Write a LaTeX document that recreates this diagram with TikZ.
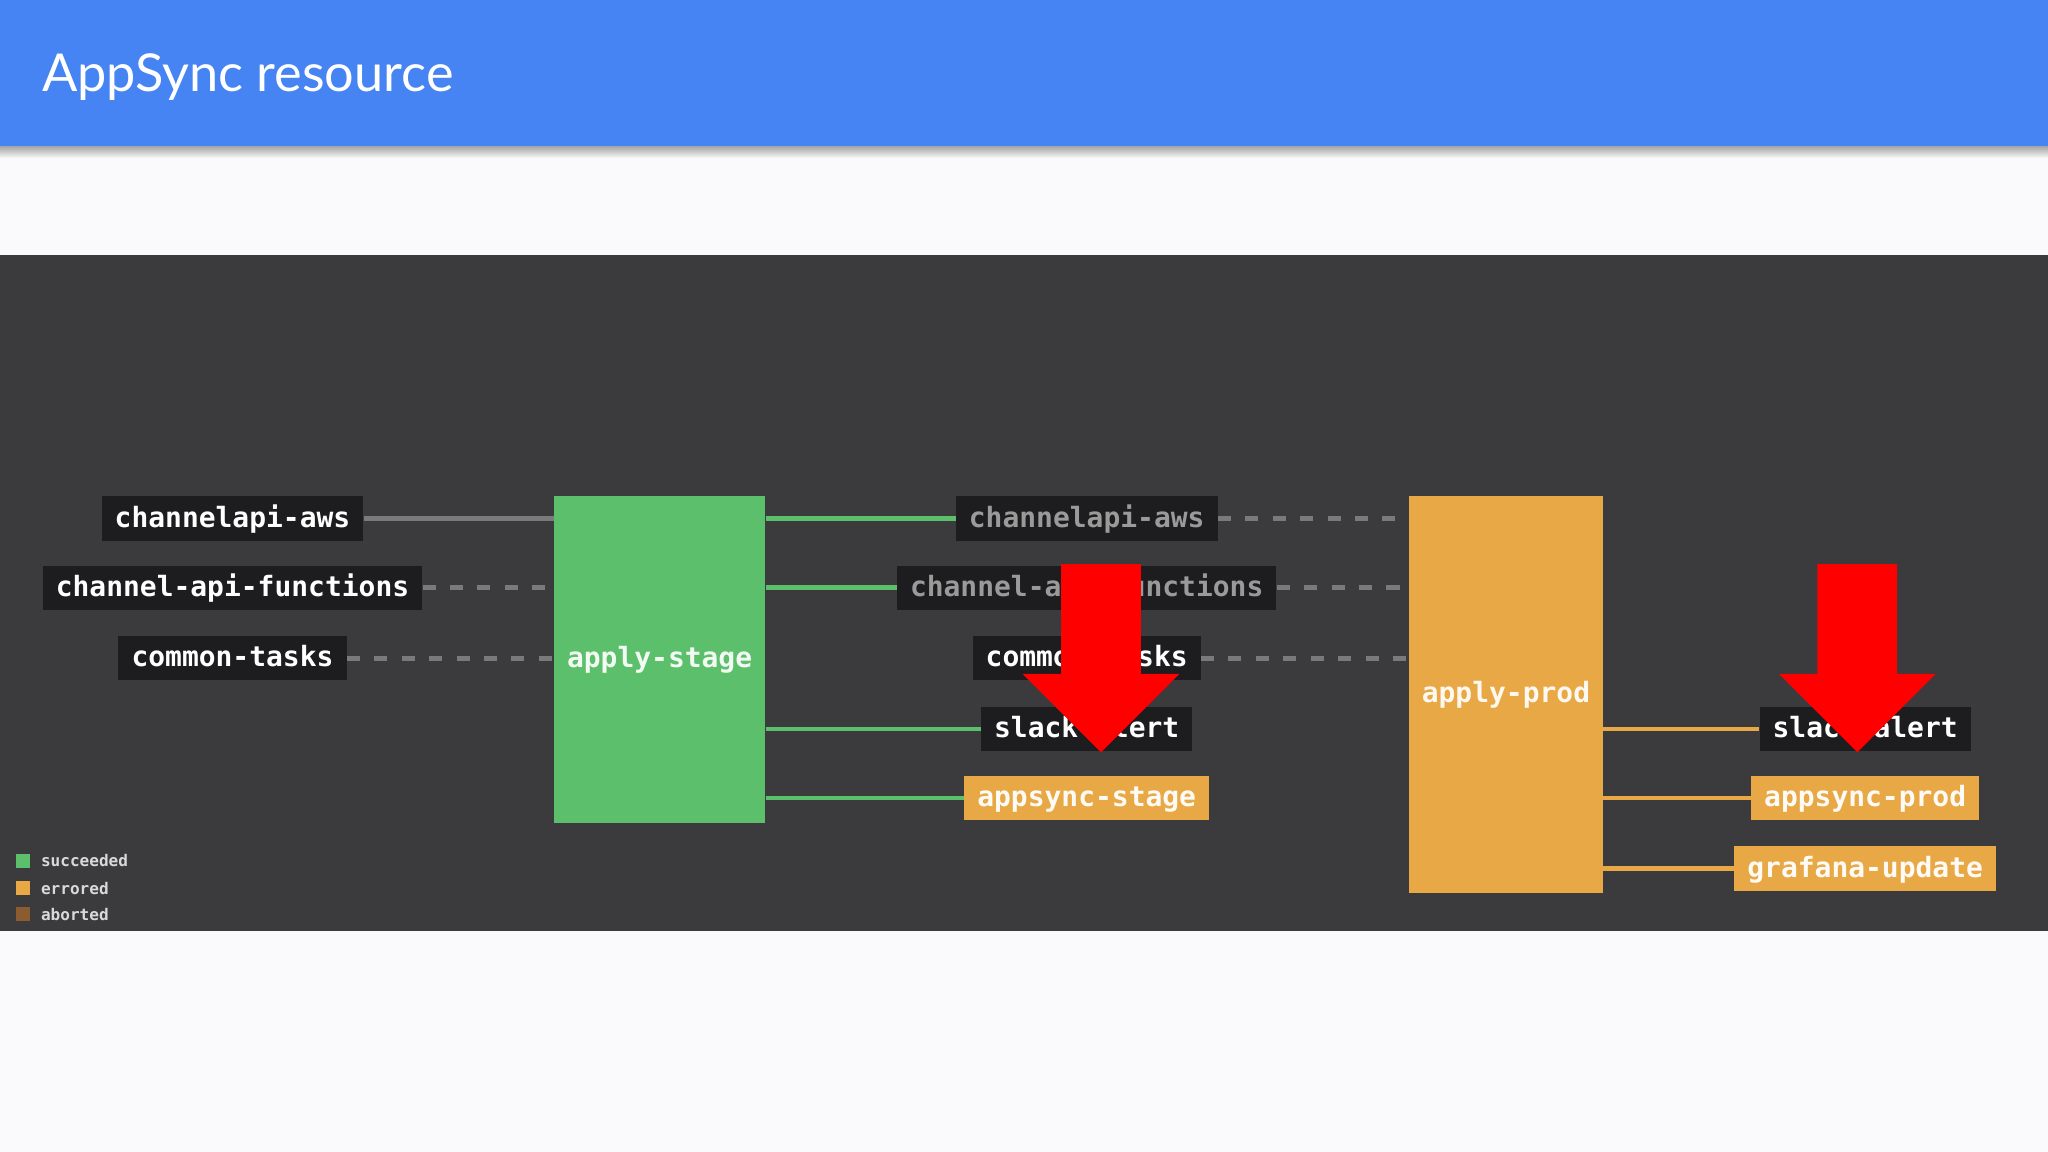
\documentclass[tikz,border=0pt]{standalone}
\usepackage{fontspec}
\usepackage{tikz}
\usetikzlibrary{positioning}
\newfontfamily\titlefont{Lato}
\newfontfamily\jobfont{DejaVu Sans Mono}
\definecolor{headblue}{HTML}{4584F2}
\definecolor{pagebg}{HTML}{FAF9FB}
\definecolor{darkbg}{HTML}{3B3A3C}
\definecolor{jobbg}{HTML}{1D1C1E}
\definecolor{okgreen}{HTML}{5BBF6B}
\definecolor{errorange}{HTML}{E8A845}
\definecolor{abortbrown}{HTML}{8C5C30}
\definecolor{depgrey}{HTML}{7A7A7A}
\definecolor{dimtext}{HTML}{9A9A9A}

\begin{document}
\begin{tikzpicture}[
    x=1pt, y=-1pt,
    job/.style={
        rectangle,
        fill=jobbg,
        text=white,
        font=\jobfont\bfseries\fontsize{21.4}{24}\selectfont,
        inner xsep=10pt, inner ysep=0pt,
        minimum height=34pt,
        text height=17pt, text depth=4pt
    },
    dimjob/.style={job, text=dimtext},
    errjob/.style={job, fill=errorange, text=white!95!errorange},
    stagebox/.style={
        rectangle,
        text=white!92!okgreen,
        font=\jobfont\bfseries\fontsize{21.4}{24}\selectfont,
        inner sep=0pt
    },
    dep/.style={draw=depgrey, line width=3.5pt},
    wait/.style={draw=depgrey, line width=3.5pt, dash pattern=on 10pt off 11pt},
    okline/.style={draw=okgreen, line width=3.5pt},
    errline/.style={draw=errorange, line width=3.5pt},
    legbox/.style={rectangle, minimum size=11pt, inner sep=0pt},
    legtext/.style={text=white!85!black, font=\jobfont\bfseries\fontsize{12.3}{14}\selectfont, inner sep=0pt, anchor=west}
  ]
  % page bands
  \fill[pagebg] (0,0) rectangle (1568,882);
  \fill[darkbg] (0,195) rectangle (1568,713);
  \shade[top color=black!35, bottom color=pagebg] (0,112) rectangle (1568,121);
  \fill[headblue] (0,0) rectangle (1568,112);
  \node[anchor=base west, inner sep=0pt, text=white, font=\titlefont\fontsize{40}{44}\selectfont] (title) at (32,70) {AppSync resource};

  % We start by placing the blocks
  \node[job] (awsL) at (178,397) {channelapi-aws};
  \node[job] (fnL) at (178,450) {channel-api-functions};
  \node[job] (tasksL) at (178,504) {common-tasks};

  \node[stagebox, fill=okgreen, minimum width=162pt, minimum height=250pt] (stage) at (505,505) {apply-stage};

  \node[dimjob] (awsM) at (832,397) {channelapi-aws};
  \node[dimjob] (fnM) at (832,450) {channel-api-functions};
  \node[job] (tasksM) at (832,504) {common-tasks};
  \node[job] (slackM) at (832,558) {slack-alert};
  \node[errjob] (appStage) at (832,611) {appsync-stage};

  \node[stagebox, fill=errorange, text=white!92!errorange, minimum width=148pt, minimum height=304pt] (prod) at (1153,532) {apply-prod};

  \node[job] (slackR) at (1428,558) {slack-alert};
  \node[errjob] (appProd) at (1428,611) {appsync-prod};
  \node[errjob] (grafana) at (1428,665) {grafana-update};

  % connectors
  \draw[dep] (awsL) -- (awsL -| stage.west);
  \draw[wait] (fnL) -- (fnL -| stage.west);
  \draw[wait] (tasksL) -- (tasksL -| stage.west);

  \draw[okline] (awsM -| stage.east) -- (awsM);
  \draw[okline] (fnM -| stage.east) -- (fnM);
  \draw[okline] (slackM -| stage.east) -- (slackM);
  \draw[okline] (appStage -| stage.east) -- (appStage);

  \draw[wait] (awsM) -- (awsM -| prod.west);
  \draw[wait] (fnM) -- (fnM -| prod.west);
  \draw[wait] (tasksM) -- (tasksM -| prod.west);

  \draw[errline] (slackR -| prod.east) -- (slackR);
  \draw[errline] (appProd -| prod.east) -- (appProd);
  \draw[errline] (grafana -| prod.east) -- (grafana);

  % red arrows
  \foreach \ax in {843,1422}
    \fill[red] (\ax-30.5,432) -- (\ax+30.5,432) -- (\ax+30.5,516) -- (\ax+60,516)
      -- (\ax,576) -- (\ax-60,516) -- (\ax-30.5,516) -- cycle;

  % legend
  \node[legbox, fill=okgreen] (legOk) at (17.5,659) {};
  \node[legbox, fill=errorange] (legErr) at (17.5,680) {};
  \node[legbox, fill=abortbrown] (legAbort) at (17.5,700) {};
  \node[legtext, right=8pt of legOk] {succeeded};
  \node[legtext, right=8pt of legErr] {errored};
  \node[legtext, right=8pt of legAbort] {aborted};
\end{tikzpicture}
\end{document}
